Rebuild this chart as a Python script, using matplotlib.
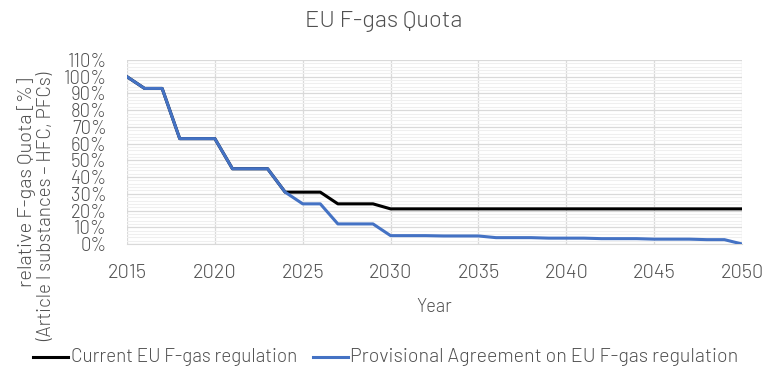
import matplotlib
matplotlib.use("Agg")
import matplotlib.pyplot as plt
from matplotlib.ticker import MultipleLocator, PercentFormatter

years = list(range(2015, 2051))
current = [100, 93, 93, 63, 63, 63, 45, 45, 45, 31, 31, 31, 24, 24, 24,
           21, 21, 21, 21, 21, 21, 21, 21, 21, 21, 21, 21, 21, 21, 21,
           21, 21, 21, 21, 21, 21]
provisional = [100, 93, 93, 63, 63, 63, 45, 45, 45, 31, 24, 24, 12, 12, 12,
               5.0, 5.0, 5.0, 4.8, 4.8, 4.8, 3.8, 3.8, 3.8, 3.5, 3.5, 3.5, 3.2, 3.2, 3.2,
               2.9, 2.9, 2.9, 2.6, 2.6, 0.0]
x_ticks = [2015, 2020, 2025, 2030, 2035, 2040, 2045, 2050]
title = 'EU F-gas Quota'
ylab1 = 'relative F-gas Quota [%]'
ylab2 = '(Article I substances – HFC, PFCs)'
xlab = 'Year'
labels = ['Current EU F-gas regulation', 'Provisional Agreement on EU F-gas regulation']

FONT = ['Barlow', 'DejaVu Sans']
plt.rcParams['font.family'] = FONT
plt.rcParams['font.weight'] = 300
TXT = '#505050'
W, H = 768, 374

fig = plt.figure(figsize=(7.68, 3.74), dpi=100)
ax = fig.add_axes([127 / W, 1 - 244 / H, 615 / W, 184 / H])
renderer = fig.canvas.get_renderer()


def fit(t, target, dim='width'):
    t.set_fontsize(10)
    bb = t.get_window_extent(renderer)
    w = bb.width if dim == 'width' else bb.height
    t.set_fontsize(10 * target / w)
    return 10 * target / w


def fx(px):
    return px / W


def fy(py):
    return 1 - py / H


ax.plot(years, current, color='black', lw=2.2, zorder=3)
ax.plot(years, provisional, color='#4472C4', lw=2.2, zorder=4)

ax.set_xlim(2015, 2050)
ax.set_ylim(0, 110)
ax.set_xticks(x_ticks)
ax.yaxis.set_major_locator(MultipleLocator(10))
ax.yaxis.set_minor_locator(MultipleLocator(2))
ax.yaxis.set_major_formatter(PercentFormatter(decimals=0))
ax.grid(which='major', axis='both', color='#d9d9d9', lw=0.9)
ax.grid(which='minor', axis='y', color='#efefef', lw=0.8)
ax.set_axisbelow(True)
for s in ['top', 'right', 'left']:
    ax.spines[s].set_visible(False)
ax.spines['bottom'].set_color('#d9d9d9')

tmp = fig.text(0, 0, '2015')
xs = fit(tmp, 39)
tmp.set_text('110%')
ys = fit(tmp, 39)
tmp.remove()
ax.tick_params(which='both', length=0, colors=TXT)
ax.tick_params(axis='x', labelsize=xs, pad=14.5)
ax.tick_params(axis='y', labelsize=ys, pad=14.5)

t = fig.text(0.5, fy(21), title, ha='center', va='center', color=TXT)
fit(t, 157)
t = fig.text(fx(434), fy(307), xlab, ha='center', va='center', color=TXT)
fit(t, 36)
t = fig.text(fx(27), fy(182), ylab1, rotation=90, ha='center', va='center', color=TXT)
fit(t, 209, 'height')
t = fig.text(fx(46), fy(206), ylab2, rotation=90, ha='center', va='center', color=TXT)
fit(t, 269, 'height')

ly = fy(357)
fig.add_artist(plt.Line2D([fx(33), fx(68)], [ly, ly], color='black', lw=2.2))
t = fig.text(fx(71), ly, labels[0], ha='left', va='center', color=TXT)
fit(t, 227)
fig.add_artist(plt.Line2D([fx(313), fx(348)], [ly, ly], color='#4472C4', lw=2.2))
t = fig.text(fx(350), ly, labels[1], ha='left', va='center', color=TXT)
fit(t, 388)

fig.savefig('out.png', dpi=100)
